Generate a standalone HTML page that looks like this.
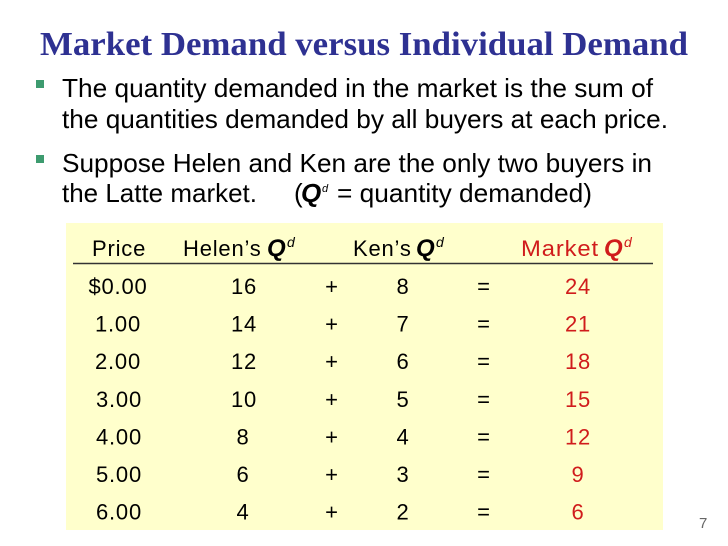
<!DOCTYPE html>
<html>
<head>
<meta charset="utf-8">
<style>
  html,body{margin:0;padding:0;background:#fff;}
  body{width:728px;height:546px;overflow:hidden;}
  svg{display:block;}
  .s{font-family:"Liberation Sans",Arial,sans-serif;}
</style>
</head>
<body>
<svg width="728" height="546" viewBox="0 0 728 546" xmlns="http://www.w3.org/2000/svg">
  <rect x="0" y="0" width="728" height="546" fill="#ffffff"/>

  <!-- Title -->
  <text x="40" y="55" font-family="Liberation Serif, Times New Roman, serif" font-weight="bold" font-size="34" fill="#2e3192" textLength="648" lengthAdjust="spacingAndGlyphs">Market Demand versus Individual Demand</text>

  <!-- Bullets -->
  <rect x="36" y="80" width="8" height="8" fill="#3d9b6f"/>
  <rect x="36" y="155" width="8" height="8" fill="#3d9b6f"/>

  <g class="s" font-size="26" fill="#000">
    <text x="62" y="97" textLength="591" lengthAdjust="spacingAndGlyphs">The quantity demanded in the market is the sum of</text>
    <text x="62" y="128" textLength="606" lengthAdjust="spacingAndGlyphs">the quantities demanded by all buyers at each price.</text>
    <text x="62" y="172" textLength="590" lengthAdjust="spacingAndGlyphs">Suppose Helen and Ken are the only two buyers in</text>
    <text x="62" y="202" textLength="195" lengthAdjust="spacingAndGlyphs">the Latte market.</text>
    <text x="294" y="202">(</text>
    <text x="301" y="202" font-weight="bold" font-style="italic">Q</text>
    <text x="322" y="192" font-size="11" font-style="italic">d</text>
    <text x="337" y="202" textLength="255" lengthAdjust="spacingAndGlyphs">= quantity demanded)</text>
  </g>

  <!-- Table panel -->
  <rect x="66" y="223" width="597" height="307" fill="#ffffcc"/>
  <line x1="73" y1="263.5" x2="653" y2="263.5" stroke="#333" stroke-width="1.5"/>

  <g class="s" font-size="22" fill="#000" letter-spacing="0.8">
    <!-- header -->
    <text x="92" y="256">Price</text>
    <text x="183" y="256">Helen’s</text>
    <text x="267" y="256" font-size="24" font-weight="bold" font-style="italic" letter-spacing="0">Q</text>
    <text x="287" y="247" font-size="14" font-style="italic" letter-spacing="0">d</text>
    <text x="353" y="256">Ken’s</text>
    <text x="416" y="256" font-size="24" font-weight="bold" font-style="italic" letter-spacing="0">Q</text>
    <text x="436" y="247" font-size="14" font-style="italic" letter-spacing="0">d</text>
    <g fill="#d01c1c">
      <text x="521" y="256" textLength="78" lengthAdjust="spacingAndGlyphs">Market</text>
      <text x="604" y="256" font-size="24" font-weight="bold" font-style="italic" letter-spacing="0">Q</text>
      <text x="624" y="247" font-size="14" font-style="italic" letter-spacing="0">d</text>
    </g>
  </g>

  <g class="s" font-size="22" fill="#000" text-anchor="middle" letter-spacing="0.8">
    <!-- Price column -->
    <text x="118" y="294">$0.00</text>
    <text x="118" y="331.6">1.00</text>
    <text x="118" y="369.2">2.00</text>
    <text x="119" y="406.8">3.00</text>
    <text x="119" y="444.4">4.00</text>
    <text x="119" y="482">5.00</text>
    <text x="119" y="519.6">6.00</text>
    <!-- Helen -->
    <text x="244" y="294">16</text>
    <text x="244" y="331.6">14</text>
    <text x="244" y="369.2">12</text>
    <text x="244" y="406.8">10</text>
    <text x="243" y="444.4">8</text>
    <text x="243" y="482">6</text>
    <text x="243" y="519.6">4</text>
    <!-- plus -->
    <text x="332" y="294">+</text>
    <text x="332" y="331.6">+</text>
    <text x="332" y="369.2">+</text>
    <text x="332" y="406.8">+</text>
    <text x="332" y="444.4">+</text>
    <text x="332" y="482">+</text>
    <text x="332" y="519.6">+</text>
    <!-- Ken -->
    <text x="403" y="294">8</text>
    <text x="403" y="331.6">7</text>
    <text x="403" y="369.2">6</text>
    <text x="403" y="406.8">5</text>
    <text x="403" y="444.4">4</text>
    <text x="403" y="482">3</text>
    <text x="403" y="519.6">2</text>
    <!-- equals -->
    <text x="484" y="294">=</text>
    <text x="484" y="331.6">=</text>
    <text x="484" y="369.2">=</text>
    <text x="484" y="406.8">=</text>
    <text x="484" y="444.4">=</text>
    <text x="484" y="482">=</text>
    <text x="484" y="519.6">=</text>
    <!-- Market -->
    <g fill="#d01c1c">
      <text x="578" y="294">24</text>
      <text x="578" y="331.6">21</text>
      <text x="578" y="369.2">18</text>
      <text x="578" y="406.8">15</text>
      <text x="578" y="444.4">12</text>
      <text x="578" y="482">9</text>
      <text x="578" y="519.6">6</text>
    </g>
  </g>

  <!-- page number -->
  <text x="699" y="528" class="s" font-size="15" fill="#666">7</text>
</svg>
</body>
</html>
